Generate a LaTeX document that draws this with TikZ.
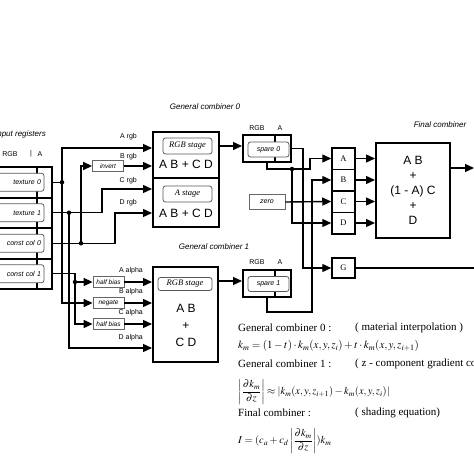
\documentclass[tikz,border=0pt]{standalone}
\usepackage{mathptmx}
\usepackage{fontspec}
\setmainfont{Liberation Serif}
\setsansfont{Liberation Sans}
\usetikzlibrary{arrows.meta,calc,positioning}

\begin{document}
\begin{tikzpicture}[x=1pt,y=-1pt]
  \tikzset{
    wire/.style={line width=1.4pt},
    arr/.style={wire,-{Triangle[length=9pt,width=8pt]}},
    thickbox/.style={draw,line width=2pt,inner sep=0pt},
    rowbox/.style={thickbox,minimum width=67pt,minimum height=30.5pt},
    regbox/.style={draw=black!65,fill=white,rounded corners=2.5pt,line width=0.8pt,inner sep=0pt,font=\sffamily\itshape\fontsize{7}{8}\selectfont},
    stagebox/.style={regbox,font=\itshape\fontsize{8.5}{9}\selectfont},
    opbox/.style={draw=black!60,fill=white,line width=0.8pt,inner sep=0pt,minimum width=31pt,minimum height=11pt,font=\sffamily\itshape\fontsize{6.5}{7}\selectfont},
    letbox/.style={draw,line width=1.5pt,minimum width=23pt,minimum height=21.5pt,inner sep=0pt,font=\fontsize{8.5}{9}\selectfont},
    lab/.style={font=\sffamily\fontsize{7}{8}\selectfont,inner sep=0pt},
    ttl/.style={font=\sffamily\itshape\fontsize{8}{9}\selectfont,inner sep=0pt},
    big/.style={font=\sffamily\fontsize{12}{15}\selectfont,align=center,inner sep=0pt},
    eq/.style={font=\fontsize{11}{13}\selectfont,anchor=west,inner sep=0pt},
    jdot/.style={circle,fill,inner sep=0pt,minimum size=4.5pt}
  }
  \useasboundingbox (0,0) rectangle (474,474);

  % input registers
  \node[ttl,anchor=east] at (46,134) {Input registers};
  \node[lab] at (10,154) {RGB};
  \node[lab] at (31,154) {|};
  \node[lab] at (40,154) {A};
  \node[rowbox] (r0) at (18.5,182.25) {};
  \node[rowbox] (r1) at (18.5,212.75) {};
  \node[rowbox] (r2) at (18.5,243.25) {};
  \node[rowbox] (r3) at (18.5,273.75) {};
  \draw[line width=2pt] (r0.north -| 37,0) -- (r3.south -| 37,0);
  \foreach \r/\t in {r0/texture 0,r1/texture 1,r2/const col 0,r3/const col 1}
    \node[regbox,minimum width=59pt,minimum height=18pt,text width=53pt,align=right]
      at ([xshift=-4pt]\r.center) {\t};

  % general combiner 0
  \node[ttl] at (205,107) {General combiner 0};
  \node[thickbox,minimum width=66pt,minimum height=95pt] (gc0) at (186,179.5) {};
  \draw[line width=2pt] (gc0.west |- 0,178) -- (gc0.east |- 0,178);
  \node[stagebox,minimum width=49pt,minimum height=16pt] (gc0rgb) at (187.5,146) {RGB stage};
  \node[big] at (186,164) {A B + C D};
  \node[stagebox,minimum width=49pt,minimum height=16pt] (gc0a) at (187.5,194) {A stage};
  \node[big] at (186,213) {A B + C D};

  % general combiner 1
  \node[ttl] at (214,247) {General combiner 1};
  \node[thickbox,minimum width=65pt,minimum height=95pt] (gc1) at (185.5,314.5) {};
  \node[stagebox,minimum width=54pt,minimum height=13pt] (gc1rgb) at (185,284) {RGB stage};
  \node[big,font=\sffamily\fontsize{12}{17}\selectfont] at (186,325) {A B\\+\\C D};

  % input ops
  \node[opbox] (inv) at (108,166) {invert};
  \node[opbox] (hb0) at (108.5,282) {half bias};
  \node[opbox] (neg) at (108.5,303) {negate};
  \node[opbox] (hb1) at (108.5,324) {half bias};

  % channel labels
  \node[lab,anchor=east] at (137,137) {A rgb};
  \node[lab,anchor=east] at (137,157) {B rgb};
  \node[lab,anchor=east] at (137,181) {C rgb};
  \node[lab,anchor=east] at (137,203) {D rgb};
  \node[lab,anchor=east] at (143,271) {A alpha};
  \node[lab,anchor=east] at (143,292) {B alpha};
  \node[lab,anchor=east] at (143,313) {C alpha};
  \node[lab,anchor=east] at (143,338) {D alpha};

  % wires from registers
  \coordinate (j0) at (62,182.25);
  \coordinate (j1) at (69,212.75);
  \coordinate (j2) at (81,243.25);
  \coordinate (j3) at (75,282);
  \draw[wire] (r0.east) -- (j0);
  \draw[arr] (j0) |- (gc0.west |- 0,148);
  \draw[arr] (j0) |- (neg.west);
  \draw[arr] (r1.east) -- (102,212.75) |- (gc0.west |- 0,189);
  \draw[arr] (j1) |- (gc1.west |- 0,348);
  \draw[arr] (r2.east) -- (115,243.25) |- (gc0.west |- 0,213);
  \draw[arr] (j2) |- (inv.west);
  \draw[arr] (inv.east) -- (gc0.west |- inv.east);
  \draw[wire] (r3.east) -| (j3);
  \draw[arr] (j3) -- (hb0.west);
  \draw[arr] (j3) |- (hb1.west);
  \foreach \o in {hb0,neg,hb1}
    \draw[arr] (\o.east) -- (gc1.west |- \o.east);
  \foreach \j in {j0,j1,j2,j3} \node[jdot] at (\j) {};

  % spare registers
  \node[lab] at (257,128) {RGB};
  \node[lab] at (280,128) {A};
  \node[thickbox,minimum width=48pt,minimum height=27pt] (sp0) at (267,148.5) {};
  \draw[line width=2pt] ([xshift=8pt]sp0.north) -- ([xshift=8pt]sp0.south);
  \node[regbox,minimum width=41pt,minimum height=15pt] at (268.5,149.5) {spare 0};
  \node[lab] at (257,262) {RGB};
  \node[lab] at (280,262) {A};
  \node[thickbox,minimum width=48pt,minimum height=27pt] (sp1) at (267,283) {};
  \draw[line width=2pt] ([xshift=8pt]sp1.north) -- ([xshift=8pt]sp1.south);
  \node[regbox,minimum width=41pt,minimum height=15pt] at (268.5,284) {spare 1};
  \draw[arr] (gc0.east |- 0,146) -- (sp0.west |- 0,146);
  \draw[arr] (gc1.east |- 0,281) -- (sp1.west |- 0,281);

  % final combiner inputs
  \node[opbox,minimum width=36pt,minimum height=15pt,font=\sffamily\itshape\fontsize{7}{8}\selectfont] (zero) at (267,202) {zero};
  \node[letbox] (ba) at (343.5,158.5) {A};
  \node[letbox] (bb) at (343.5,180) {B};
  \node[letbox] (bc) at (343.5,201.5) {C};
  \node[letbox] (bd) at (343.5,223) {D};
  \node[letbox,minimum height=20pt] (bg) at (343.5,268) {G};
  \coordinate (j4) at (292,169);
  \draw[arr] (sp0.south) -- (267,169) -- (310,169) |- (ba.west);
  \draw[arr] (j4) |- (bd.west);
  \node[jdot] at (j4) {};
  \draw[arr] (sp0.east) -- (303,148.5) |- (bg.west);
  \draw[arr] (zero.east) -- (bc.west);
  \draw[arr] (sp1.south) |- (312,312) |- (bb.west);

  % final combiner
  \node[ttl] at (440,125) {Final combiner};
  \node[thickbox,big,minimum width=74pt,minimum height=95pt] (fc) at (413,190.5) {A B\\+\\(1 - A) C\\+\\D};
  \foreach \b in {ba,bb,bc,bd}
    \draw[arr] (\b.east) -- (fc.west |- \b.east);
  \coordinate (outF) at (474,168);
  \coordinate (outG) at (474,268);
  \draw[arr] (fc.east |- outF) -- (outF);
  \draw[wire] (bg.east) -- (outG);

  % equations
  \node[eq] at (238,328) {General combiner 0 :};
  \node[eq] at (355,328) {( material interpolation )};
  \node[eq] at (238,346) {$k_m = (1-t)\cdot k_m(x,y,z_i) + t\cdot k_m(x,y,z_{i+1})$};
  \node[eq] at (238,364) {General combiner 1 :};
  \node[eq] at (355,364) {( z - component gradient computation )};
  \node[eq,font=\fontsize{10.5}{12}\selectfont] at (238,392) {$\displaystyle\left|\frac{\partial k_m}{\partial z}\right| \approx \left|k_m(x,y,z_{i+1}) - k_m(x,y,z_i)\right|$};
  \node[eq] at (238,413) {Final combiner :};
  \node[eq] at (355,413) {( shading equation)};
  \node[eq,font=\fontsize{10.5}{12}\selectfont] at (238,441) {$\displaystyle I = (c_a + c_d\left|\frac{\partial k_m}{\partial z}\right|)k_m$};
\end{tikzpicture}
\end{document}
